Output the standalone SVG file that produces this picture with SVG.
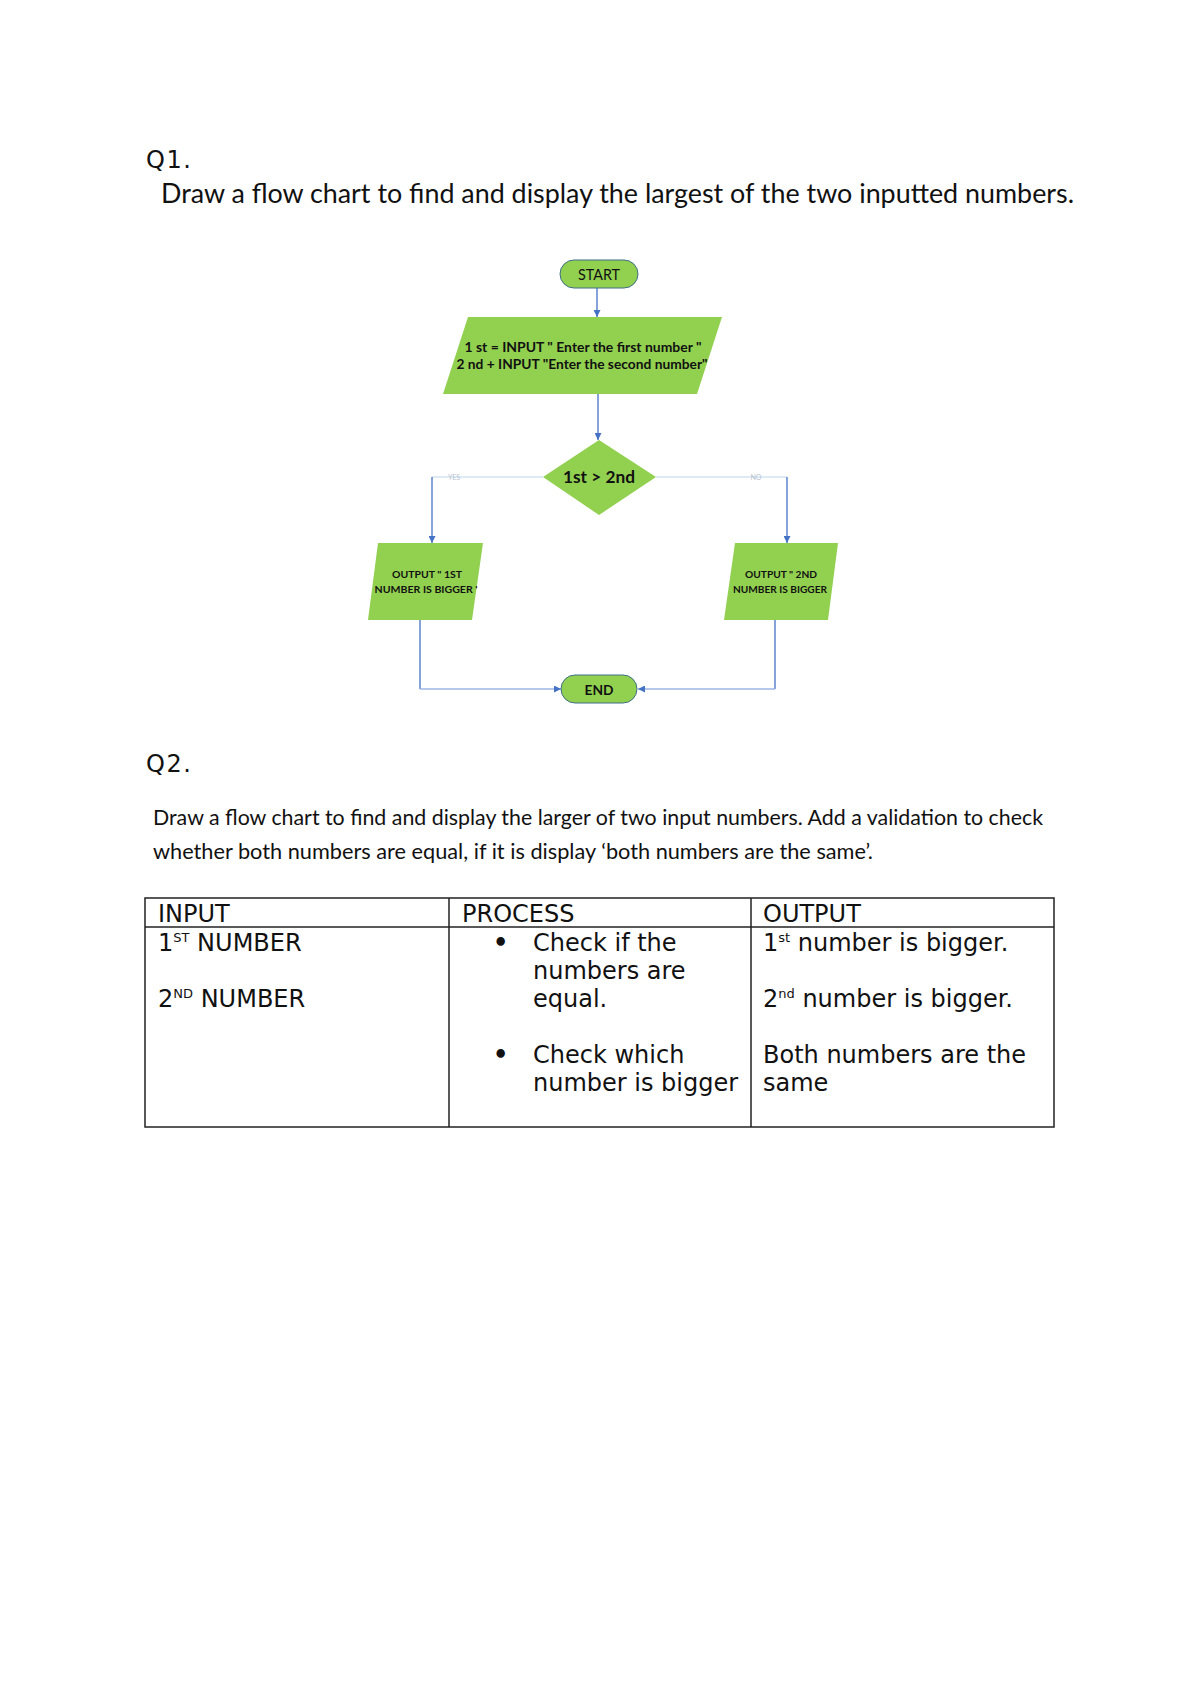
<svg xmlns="http://www.w3.org/2000/svg" width="1200" height="1696" viewBox="0 0 1200 1696">
<style>
.dv{font-family:"DejaVu Sans",sans-serif;font-size:24px;fill:#111}
.cal{font-family:Lato,"Liberation Sans",sans-serif;fill:#111}
.fl{font-family:Lato,"Liberation Sans",sans-serif;fill:#111;text-anchor:middle}
.b{font-weight:bold}
.sh{fill:#92d050}
.pill{fill:#92d050;stroke:#3f6f8a;stroke-width:1}
.ln{fill:none;stroke:#4472c4;stroke-width:1.3}
.pale{fill:none;stroke:#d3e4f5;stroke-width:1.3}
.lt{fill:none;stroke:#9db6e4;stroke-width:1.3}
.tb{fill:none;stroke:#222;stroke-width:1.5}
.sup{font-size:13px}
.bul{font-family:"DejaVu Sans",sans-serif;font-size:24px;font-weight:bold;fill:#111}
</style>
<defs>
<marker id="ah" viewBox="0 0 10 10" refX="10" refY="5" markerWidth="7" markerHeight="7" orient="auto" markerUnits="userSpaceOnUse">
<path d="M0,0 L10,5 L0,10 Z" fill="#4472c4"/>
</marker>
</defs>
<rect width="1200" height="1696" fill="#fff"/>

<g id="headings">
<text class="dv" x="146" y="168" letter-spacing="1.5">Q1.</text>
<text class="cal" x="161" y="203" font-size="26" textLength="913" lengthAdjust="spacingAndGlyphs">Draw a flow chart to find and display the largest of the two inputted numbers.</text>
<text class="dv" x="146" y="772" letter-spacing="1.5">Q2.</text>
<text class="cal" x="153" y="825" font-size="21" textLength="890" lengthAdjust="spacingAndGlyphs">Draw a flow chart to find and display the larger of two input numbers. Add a validation to check</text>
<text class="cal" x="153" y="859" font-size="21" textLength="720" lengthAdjust="spacingAndGlyphs">whether both numbers are equal, if it is display ‘both numbers are the same’.</text>
</g>

<g id="connectors">
<line class="ln" x1="597" y1="288" x2="597" y2="317" marker-end="url(#ah)"/>
<line class="ln" x1="598" y1="394" x2="598" y2="440" marker-end="url(#ah)"/>
<path class="pale" d="M543,477 H432"/>
<path class="ln" d="M432,477 V543" marker-end="url(#ah)"/>
<path class="pale" d="M656,477 H787"/>
<path class="ln" d="M787,477 V543" marker-end="url(#ah)"/>
<path class="ln" d="M420,620 V689" stroke="#6f90cf"/>
<path class="lt" d="M420,689 H561" marker-end="url(#ah)"/>
<path class="ln" d="M775,620 V689"/>
<path class="lt" d="M775,689 H638" marker-end="url(#ah)"/>
<text x="454" y="480" font-family="Lato,sans-serif" font-size="7" fill="#b8c2d0" text-anchor="middle">YES</text>
<text x="756" y="480" font-family="Lato,sans-serif" font-size="7" fill="#b8c2d0" text-anchor="middle">NO</text>
</g>

<g id="start">
<rect class="pill" x="560" y="260" width="78" height="28" rx="14"/>
<text class="fl" x="599" y="279.5" font-size="15" textLength="42" lengthAdjust="spacingAndGlyphs">START</text>
</g>

<g id="input">
<polygon class="sh" points="468,317 722,317 697,394 443,394"/>
<text class="fl b" x="583" y="352" font-size="13" textLength="237" lengthAdjust="spacingAndGlyphs">1 st = INPUT " Enter the first number "</text>
<text class="fl b" x="582" y="369" font-size="13" textLength="251" lengthAdjust="spacingAndGlyphs">2 nd + INPUT "Enter the second number"</text>
</g>

<g id="decision">
<polygon class="sh" points="599,440 656,477 599,515 543,477"/>
<text class="fl b" x="599" y="483" font-size="17" textLength="72" lengthAdjust="spacingAndGlyphs">1st &gt; 2nd</text>
</g>

<g id="output1">
<polygon class="sh" points="378,543 483,543 472,620 368,620"/>
<text class="fl b" x="427" y="578" font-size="9.5" textLength="70" lengthAdjust="spacingAndGlyphs">OUTPUT " 1ST</text>
<text class="fl b" x="426" y="593" font-size="9.5" textLength="103" lengthAdjust="spacingAndGlyphs">NUMBER IS BIGGER '</text>
</g>

<g id="output2">
<polygon class="sh" points="735,543 838,543 828,620 724,620"/>
<text class="fl b" x="781" y="578" font-size="9.5" textLength="72" lengthAdjust="spacingAndGlyphs">OUTPUT " 2ND</text>
<text class="fl b" x="780" y="593" font-size="9.5" textLength="94" lengthAdjust="spacingAndGlyphs">NUMBER IS BIGGER</text>
</g>

<g id="end">
<rect class="pill" x="561" y="675" width="76" height="28" rx="14"/>
<text class="fl b" x="599" y="694.5" font-size="14" textLength="29" lengthAdjust="spacingAndGlyphs">END</text>
</g>

<g id="table">
<rect class="tb" x="145" y="898" width="909" height="229"/>
<line class="tb" x1="145" y1="927" x2="1054" y2="927"/>
<line class="tb" x1="449" y1="898" x2="449" y2="1127"/>
<line class="tb" x1="751" y1="898" x2="751" y2="1127"/>
<text class="dv" x="158" y="922">INPUT</text>
<text class="dv" x="462" y="922">PROCESS</text>
<text class="dv" x="763" y="922">OUTPUT</text>
<text class="dv" x="158" y="951">1<tspan class="sup" dy="-9">ST</tspan><tspan dy="9"> NUMBER</tspan></text>
<text class="dv" x="158" y="1007">2<tspan class="sup" dy="-9">ND</tspan><tspan dy="9"> NUMBER</tspan></text>
<text class="bul" x="493" y="951">•</text>
<text class="dv" x="533" y="951">Check if the</text>
<text class="dv" x="533" y="979">numbers are</text>
<text class="dv" x="533" y="1007">equal.</text>
<text class="bul" x="493" y="1063">•</text>
<text class="dv" x="533" y="1063">Check which</text>
<text class="dv" x="533" y="1091">number is bigger</text>
<text class="dv" x="763" y="951">1<tspan class="sup" dy="-9">st</tspan><tspan dy="9"> number is bigger.</tspan></text>
<text class="dv" x="763" y="1007">2<tspan class="sup" dy="-9">nd</tspan><tspan dy="9"> number is bigger.</tspan></text>
<text class="dv" x="763" y="1063">Both numbers are the</text>
<text class="dv" x="763" y="1091">same</text>
</g>
</svg>
